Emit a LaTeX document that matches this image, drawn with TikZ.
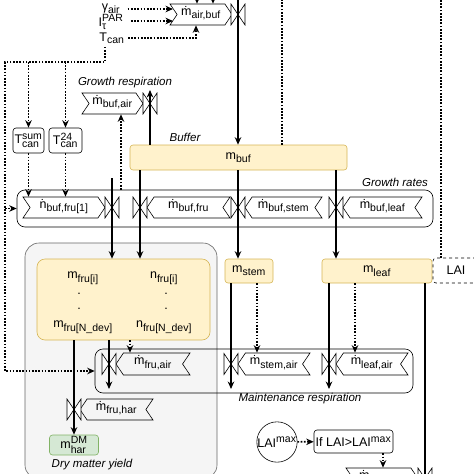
\documentclass[tikz,border=0pt]{standalone}
\usepackage{amsmath}
\usepackage{fontspec}
\setmainfont{Liberation Sans}
\DeclareMathSizes{12.5}{12.5}{10.5}{8}
\DeclareMathSizes{11.5}{11.5}{9.5}{8}
\usetikzlibrary{arrows.meta,shapes.symbols}
\definecolor{stockfill}{HTML}{FFF2CC}
\definecolor{stockline}{HTML}{D6B656}
\definecolor{devfill}{HTML}{F5F5F5}
\definecolor{devline}{HTML}{666666}
\definecolor{yieldfill}{HTML}{D5E8D4}
\definecolor{yieldline}{HTML}{82B366}
\newcommand{\flw}[2]{\ooalign{#1\cr\hidewidth ˙\hidewidth\cr}$_{\text{#2}}$}
\newcommand{\stk}[2]{$\text{#1}_{\text{#2}}$}
\newcommand{\stkk}[3]{$\text{#1}^{\text{#2}}_{\text{#3}}$}
\tikzset{
  valve/.pic={\filldraw[fill=white, line width=0.6pt] (-7,-10.5) -- (-7,10.5) -- (7,-10.5) -- (7,10.5) -- cycle;}
}
\begin{document}
\begin{tikzpicture}[x=1pt, y=-1pt, font=\fontsize{12.5}{14}\selectfont,
    >={Stealth[length=7.5pt,width=6.5pt]},
    flow/.style={->, line width=1.8pt},
    info/.style={->, line width=1.7pt, dash pattern=on 1.7pt off 1.5pt},
    stock/.style={draw=stockline, fill=stockfill, line width=0.6pt, rounded corners=3pt, inner sep=0pt},
    rate/.style={signal, draw, line width=0.6pt, signal pointer angle=112, minimum height=21pt, inner sep=0pt},
    ratel/.style={rate, signal to=west, signal from=east},
    rater/.style={rate, signal to=east, signal from=west},
    group/.style={draw, line width=0.6pt, rounded corners=8pt, inner sep=0pt},
    note/.style={font=\fontsize{11.5}{13}\selectfont\itshape}]
  \useasboundingbox (0,0) rectangle (474,474);
  \node[group, draw=devline, fill=devfill, rounded corners=14pt, minimum width=192pt, minimum height=236pt] (dev) at (121,361) {};
  \node[group, minimum width=416pt, minimum height=37pt] (growth) at (225,208.5) {};
  \node[group, minimum width=318pt, minimum height=44pt] (mresp) at (254,371) {};
  \node[note] (lgresp) at (125,83) {Growth respiration};
  \node[note] (lbuffer) at (185,137) {Buffer};
  \node[note] (lgrowth) at (395,182) {Growth rates};
  \node[note] (lmresp) at (300,399) {Maintenance respiration};
  \node[note] (lyield) at (92,465) {Dry matter yield};
  \node (gair) at (111,9) {\stk{γ}{air}};
  \node (ipar) at (111,22) {\stkk{I}{PAR}{τ}};
  \node (tcan) at (112,38) {\stk{T}{can}};
  \node[draw, line width=0.6pt, rounded corners=3pt, minimum width=31pt, minimum height=25pt, inner sep=0pt] (tsum) at (28.5,140.5) {\stkk{T}{sum}{can}};
  \node[draw, line width=0.6pt, rounded corners=3pt, minimum width=33pt, minimum height=25pt, inner sep=0pt] (tavg) at (65.5,140.5) {\stkk{T}{24}{can}};
  \node[stock, minimum width=217pt, minimum height=25pt] (mbuf) at (238.5,157.5) {\stk{m}{buf}};
  \node[stock, rounded corners=8pt, minimum width=173pt, minimum height=81pt] (fru) at (123.5,299.5) {};
  \node (mfi) at (83,278) {\stk{m}{fru[i]}};
  \node (nfi) at (164,278) {\stk{n}{fru[i]}};
  \node (mdota) at (79,294) {.};
  \node (mdotb) at (79,309) {.};
  \node (ndota) at (166,294) {.};
  \node (ndotb) at (166,309) {.};
  \node (mfn) at (83,327) {\stk{m}{fru[N\_dev]}};
  \node (nfn) at (164,327) {\stk{n}{fru[N\_dev]}};
  \node[stock, minimum width=48pt, minimum height=24pt] (stem) at (249,271) {\stk{m}{stem}};
  \node[stock, minimum width=110pt, minimum height=24pt] (leaf) at (377,271) {\stk{m}{leaf}};
  \node[draw, dashed, line width=0.6pt, rounded corners=3pt, minimum width=46pt, minimum height=25pt] (lai) at (456,270.5) {LAI};
  \node[draw=yieldline, fill=yieldfill, line width=0.6pt, rounded corners=3pt, minimum width=49pt, minimum height=20pt, inner sep=0pt] (mhar) at (74,445) {\stkk{m}{DM}{har}};
  \node[draw, circle, line width=0.6pt, minimum size=40pt, inner sep=0pt] (laimax) at (277,442) {LAI$^{\text{max}}$};
  \node[draw, line width=0.6pt, rounded corners=3pt, minimum width=79pt, minimum height=23pt, inner sep=0pt] (ifbox) at (353.5,441.5) {If LAI>LAI$^{\text{max}}$};
  \node[rater, minimum width=62pt] (airbuf) at (201,14.5) {\flw{m}{air,buf}};
  \node[rater, minimum width=61pt] (bufair) at (112.5,103.5) {\flw{m}{buf,air}};
  \node[rater, minimum width=82pt] (nfru1) at (64,207.5) {\flw{n}{buf,fru[1]}};
  \node[ratel, minimum width=83pt] (bfru) at (188.5,207.5) {\flw{m}{buf,fru}};
  \node[ratel, minimum width=77pt] (bstem) at (283.5,207.5) {\flw{m}{buf,stem}};
  \node[ratel, minimum width=79pt] (bleaf) at (382.5,207.5) {\flw{m}{buf,leaf}};
  \node[ratel, minimum width=74pt, minimum height=22pt] (ffair) at (153,364) {\flw{m}{fru,air}};
  \node[ratel, minimum width=72pt, minimum height=22pt] (fstair) at (274,364) {\flw{m}{stem,air}};
  \node[ratel, minimum width=72pt, minimum height=22pt] (flair) at (372,364) {\flw{m}{leaf,air}};
  \node[ratel, minimum width=73pt] (fhar) at (116.5,409.5) {\flw{m}{fru,har}};
  \node[rater, minimum width=72pt] (lhar) at (382,478.5) {\flw{m}{leaf,har}};
  \pic at (238,14.5) {valve};
  \pic at (150,103.5) {valve};
  \pic at (112,207.5) {valve};
  \pic at (140,207.5) {valve};
  \pic at (238,207.5) {valve};
  \pic at (336,207.5) {valve};
  \pic at (109,364) {valve};
  \pic at (231,364) {valve};
  \pic at (329,364) {valve};
  \pic at (74,409.5) {valve};
  \pic at (425,478.5) {valve};
  \coordinate (topin) at (238,-10);
  \coordinate (xn) at (112,178);
  \coordinate (xbf) at (140,0);
  \coordinate (xgr) at (150,90);
  \coordinate (xleaf) at (336,0);
  \coordinate (xfa) at (109,389);
  \coordinate (xsa) at (231,389);
  \coordinate (xla) at (329,389);
  \coordinate (xlh) at (425,500);
  \coordinate (bufout) at (282,-10);
  \coordinate (laiout) at (441,-10);
  \coordinate (upa) at (197,-25);
  \coordinate (upb) at (213,-25);
  \coordinate (ina) at (173,0);
  \coordinate (tsplit) at (105,62);
  \coordinate (lft) at (5,62);
  \coordinate (xgi) at (121,0);
  \coordinate (xfi) at (130,0);
  \coordinate (xsi) at (257,0);
  \coordinate (xli) at (355,0);
  \coordinate (xhi) at (383,0);
  \draw[flow] (topin) -- (topin |- mbuf.north);
  \draw[flow] (xgr |- mbuf.north) -- (xgr);
  \draw[flow] (xn) -- (xn |- fru.north);
  \draw[flow] (xbf |- mbuf.south) -- (xbf |- fru.north);
  \draw[flow] (topin |- mbuf.south) -- (topin |- stem.north);
  \draw[flow] (xleaf |- mbuf.south) -- (xleaf |- leaf.north);
  \draw[flow] (xfa |- fru.south) -- (xfa);
  \draw[flow] (mhar.north |- fru.south) -- (mhar.north);
  \draw[flow] (xsa |- stem.south) -- (xsa);
  \draw[flow] (xla |- leaf.south) -- (xla);
  \draw[flow] (xlh |- leaf.south) -- (xlh);
  \draw[info] ([xshift=4pt]gair.east) -- (gair.east -| ina);
  \draw[info] ([xshift=4pt]ipar.east |- 0,21) -- (ina |- 0,21);
  \draw[info] (tcan.east) -| ([xshift=-5pt]airbuf.south);
  \draw[info] (upa) -- (upa |- airbuf.north);
  \draw[info] (upb) -- (upb |- airbuf.north);
  \draw[info] (bufout |- mbuf.north) -- (bufout);
  \draw[info] (laiout |- lai.north) -- (laiout);
  \draw[info] (tcan.south -| tsplit) -- (tsplit) -- (lft) |- (mresp.west);
  \draw[info] (tsplit -| tsum) -- (tsum.north);
  \draw[info] (tsplit -| tavg) -- (tavg.north);
  \draw[info] (lft |- growth.west) -- (growth.west);
  \draw[info] (tsum.south) -- (tsum.south |- nfru1.north);
  \draw[info] (tavg.south) -- (tavg.south |- nfru1.north);
  \draw[info] (xgi |- growth.north) -- (xgi |- bufair.south);
  \draw[info] (xfi |- fru.south) -- (xfi |- ffair.north);
  \draw[info] (xsi |- stem.south) -- (xsi |- fstair.north);
  \draw[info] (xli |- leaf.south) -- (xli |- flair.north);
  \draw[info] (laimax) -- (ifbox);
  \draw[info] (xhi |- ifbox.south) -- (xhi |- lhar.north);
\end{tikzpicture}
\end{document}
